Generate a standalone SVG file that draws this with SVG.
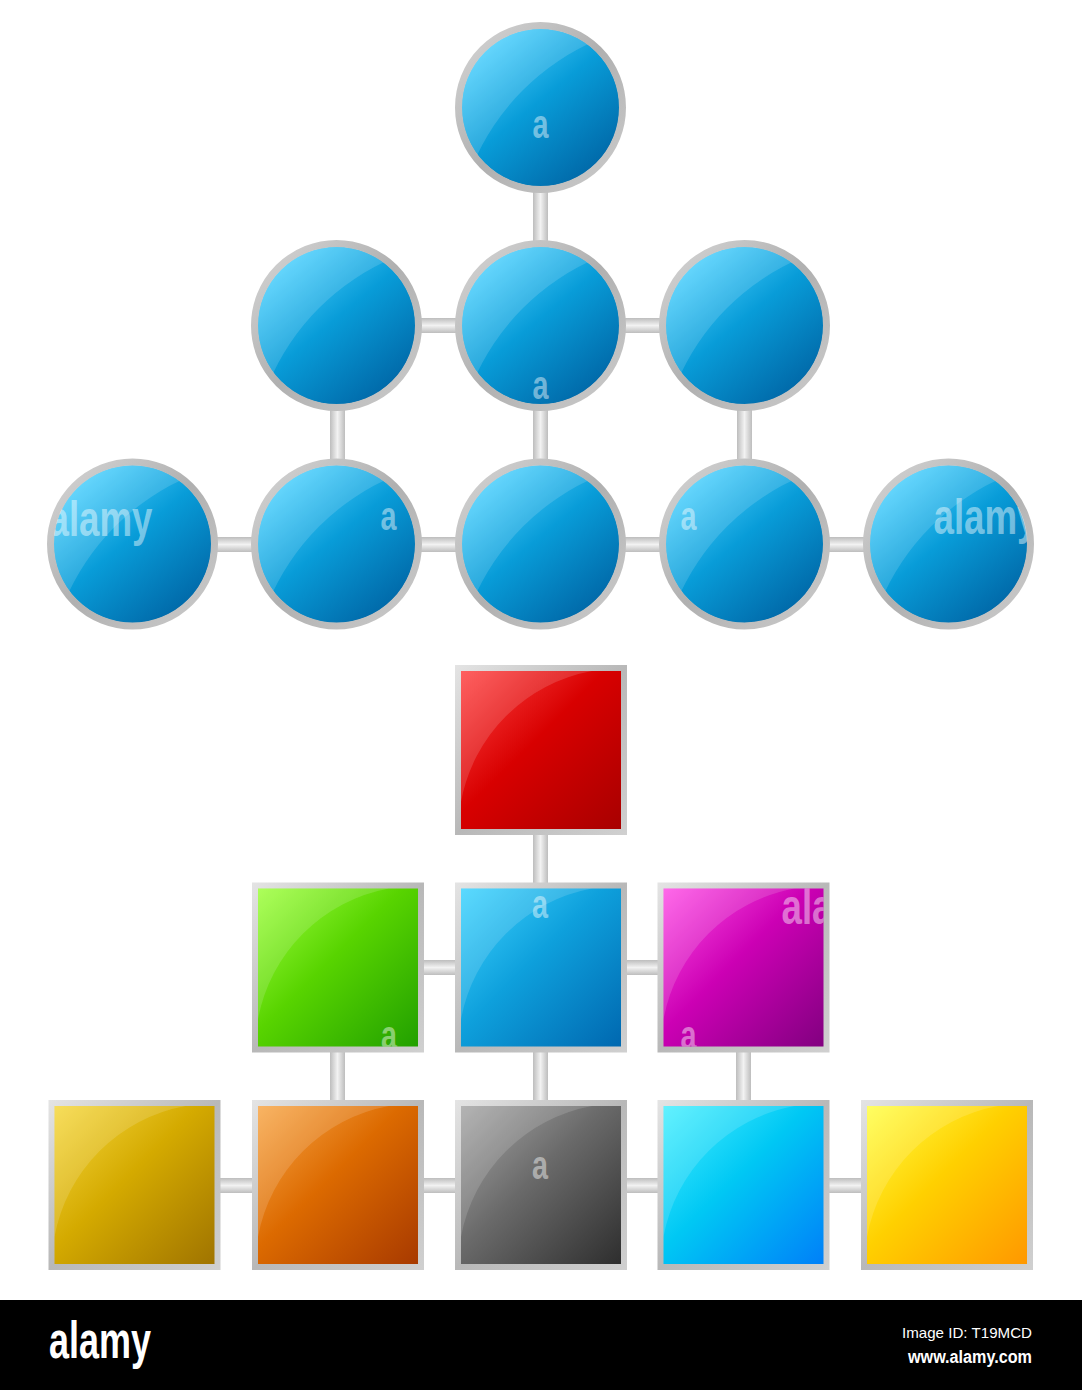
<svg xmlns="http://www.w3.org/2000/svg" width="1082" height="1390" viewBox="0 0 1082 1390">
<defs>
<style>
.wm{font-family:"Liberation Sans",Arial,sans-serif;font-weight:bold;fill:#ffffff;fill-opacity:0.45}
.ft{font-family:"Liberation Sans",Arial,sans-serif;fill:#ffffff}
.ring{fill:none;stroke:url(#ringG);stroke-width:7}
.disc{fill:url(#blueC)}
.gloss{fill:#ffffff;fill-opacity:0.14}
.frame{fill:url(#frameG)}
.hb{fill:url(#barH)}
.vb{fill:url(#barV)}
</style>
<linearGradient id="ringG" x1="0" y1="0" x2="1" y2="1">
<stop offset="0" stop-color="#d6d6d6"/><stop offset="0.5" stop-color="#b0b0b0"/><stop offset="1" stop-color="#cccccc"/>
</linearGradient>
<linearGradient id="frameG" x1="0" y1="0" x2="1" y2="1">
<stop offset="0" stop-color="#e4e4e4"/><stop offset="0.5" stop-color="#b8b8b8"/><stop offset="1" stop-color="#d0d0d0"/>
</linearGradient>
<linearGradient id="barH" x1="0" y1="0" x2="0" y2="1">
<stop offset="0" stop-color="#bdbdbd"/><stop offset="0.5" stop-color="#f2f2f2"/><stop offset="1" stop-color="#bdbdbd"/>
</linearGradient>
<linearGradient id="barV" x1="0" y1="0" x2="1" y2="0">
<stop offset="0" stop-color="#bdbdbd"/><stop offset="0.5" stop-color="#f2f2f2"/><stop offset="1" stop-color="#bdbdbd"/>
</linearGradient>
<linearGradient id="blueC" x1="0.15" y1="0.1" x2="0.85" y2="0.95">
<stop offset="0" stop-color="#4fd2ff"/><stop offset="0.45" stop-color="#089cd8"/><stop offset="1" stop-color="#0064a4"/>
</linearGradient>
<linearGradient id="gRed" x1="0" y1="0" x2="1" y2="1"><stop offset="0" stop-color="#ff4646"/><stop offset="0.45" stop-color="#d80000"/><stop offset="1" stop-color="#a80000"/></linearGradient>
<linearGradient id="gGreen" x1="0" y1="0" x2="1" y2="1"><stop offset="0" stop-color="#a0ff40"/><stop offset="0.45" stop-color="#58d400"/><stop offset="1" stop-color="#22a000"/></linearGradient>
<linearGradient id="gBlue" x1="0" y1="0" x2="1" y2="1"><stop offset="0" stop-color="#40d4ff"/><stop offset="0.45" stop-color="#0ea0dc"/><stop offset="1" stop-color="#0068b0"/></linearGradient>
<linearGradient id="gMag" x1="0" y1="0" x2="1" y2="1"><stop offset="0" stop-color="#ff50e6"/><stop offset="0.45" stop-color="#cc00b4"/><stop offset="1" stop-color="#820080"/></linearGradient>
<linearGradient id="gGold" x1="0" y1="0" x2="1" y2="1"><stop offset="0" stop-color="#f6d840"/><stop offset="0.45" stop-color="#d4aa00"/><stop offset="1" stop-color="#a07400"/></linearGradient>
<linearGradient id="gOrange" x1="0" y1="0" x2="1" y2="1"><stop offset="0" stop-color="#f8a84a"/><stop offset="0.45" stop-color="#dc6a00"/><stop offset="1" stop-color="#a83a00"/></linearGradient>
<linearGradient id="gGray" x1="0" y1="0" x2="1" y2="1"><stop offset="0" stop-color="#a8a8a8"/><stop offset="0.45" stop-color="#6a6a6a"/><stop offset="1" stop-color="#2e2e2e"/></linearGradient>
<linearGradient id="gCyan" x1="0" y1="0" x2="1" y2="1"><stop offset="0" stop-color="#48f0ff"/><stop offset="0.45" stop-color="#00c8f4"/><stop offset="1" stop-color="#0080f8"/></linearGradient>
<linearGradient id="gYellow" x1="0" y1="0" x2="1" y2="1"><stop offset="0" stop-color="#ffff48"/><stop offset="0.45" stop-color="#ffd000"/><stop offset="1" stop-color="#ff9800"/></linearGradient>
<clipPath id="cc" clipPathUnits="userSpaceOnUse"><circle cx="0" cy="0" r="79"/></clipPath>
<clipPath id="sc" clipPathUnits="userSpaceOnUse"><rect x="-80" y="-79" width="160" height="158"/></clipPath>
<g id="cnode">
<circle class="disc" r="79"/>
<path class="gloss" clip-path="url(#cc)" fill-rule="evenodd" d="M-80,-80 H80 V80 H-80 Z M382,148 A234,234 0 1 0 -86,148 A234,234 0 1 0 382,148 Z"/>
<circle class="ring" r="82"/>
</g>
<path id="sgloss" class="gloss" d="M-80,-79 H51 A163,163 0 0 0 -80,52 Z"/>
</defs>
<rect width="1082" height="1390" fill="#ffffff"/>
<g id="connectors">
<rect class="vb" x="533" y="188" width="15" height="56"/>
<rect class="hb" x="418" y="318" width="44" height="15"/>
<rect class="hb" x="621" y="318" width="44" height="15"/>
<rect class="vb" x="330" y="406" width="15" height="56"/>
<rect class="vb" x="533" y="406" width="15" height="56"/>
<rect class="vb" x="737" y="406" width="15" height="56"/>
<rect class="hb" x="214" y="537" width="42" height="15"/>
<rect class="hb" x="418" y="537" width="42" height="15"/>
<rect class="hb" x="621" y="537" width="42" height="15"/>
<rect class="hb" x="825" y="537" width="42" height="15"/>
<rect class="vb" x="533" y="833" width="15" height="52"/>
<rect class="hb" x="421" y="960" width="37" height="15"/>
<rect class="hb" x="624" y="960" width="37" height="15"/>
<rect class="vb" x="330" y="1051" width="15" height="52"/>
<rect class="vb" x="533" y="1051" width="15" height="52"/>
<rect class="vb" x="736" y="1051" width="15" height="52"/>
<rect class="hb" x="217" y="1178" width="38" height="15"/>
<rect class="hb" x="421" y="1178" width="37" height="15"/>
<rect class="hb" x="624" y="1178" width="37" height="15"/>
<rect class="hb" x="827" y="1178" width="38" height="15"/>
</g>
<g id="circle-top" transform="translate(540.5,107.5)"><use href="#cnode"/><text class="wm" x="-8" y="30" font-size="40" textLength="16" lengthAdjust="spacingAndGlyphs">a</text></g>
<g id="circle-r2-left" transform="translate(336.5,325.5)"><use href="#cnode"/></g>
<g id="circle-r2-mid" transform="translate(540.5,325.5)"><use href="#cnode"/><text class="wm" x="-8" y="73" font-size="40" textLength="16" lengthAdjust="spacingAndGlyphs" clip-path="url(#cc)">a</text></g>
<g id="circle-r2-right" transform="translate(744.5,325.5)"><use href="#cnode"/></g>
<g id="circle-r3-1" transform="translate(132.5,544)"><use href="#cnode"/><text class="wm" x="-84" y="-8" font-size="50" textLength="104" lengthAdjust="spacingAndGlyphs" clip-path="url(#cc)">alamy</text></g>
<g id="circle-r3-2" transform="translate(336.5,544)"><use href="#cnode"/><text class="wm" x="44" y="-14" font-size="40" textLength="16" lengthAdjust="spacingAndGlyphs">a</text></g>
<g id="circle-r3-3" transform="translate(540.5,544)"><use href="#cnode"/></g>
<g id="circle-r3-4" transform="translate(744.5,544)"><use href="#cnode"/><text class="wm" x="-64" y="-14" font-size="40" textLength="16" lengthAdjust="spacingAndGlyphs">a</text></g>
<g id="circle-r3-5" transform="translate(948.5,544)"><use href="#cnode"/><text class="wm" x="-15" y="-10" font-size="50" textLength="104" lengthAdjust="spacingAndGlyphs" clip-path="url(#cc)">alamy</text></g>
<g id="sq-red" transform="translate(541,750)"><rect class="frame" x="-86" y="-85" width="172" height="170"/><rect x="-80" y="-79" width="160" height="158" fill="url(#gRed)"/><use href="#sgloss"/></g>
<g id="sq-green" transform="translate(338,967.5)"><rect class="frame" x="-86" y="-85" width="172" height="170"/><rect x="-80" y="-79" width="160" height="158" fill="url(#gGreen)"/><use href="#sgloss"/><text class="wm" x="43" y="81" font-size="40" textLength="16" lengthAdjust="spacingAndGlyphs" clip-path="url(#sc)">a</text></g>
<g id="sq-blue" transform="translate(541,967.5)"><rect class="frame" x="-86" y="-85" width="172" height="170"/><rect x="-80" y="-79" width="160" height="158" fill="url(#gBlue)"/><use href="#sgloss"/><text class="wm" x="-9" y="-50" font-size="40" textLength="16" lengthAdjust="spacingAndGlyphs">a</text></g>
<g id="sq-magenta" transform="translate(743.5,967.5)"><rect class="frame" x="-86" y="-85" width="172" height="170"/><rect x="-80" y="-79" width="160" height="158" fill="url(#gMag)"/><use href="#sgloss"/><text class="wm" x="-63" y="81" font-size="40" textLength="16" lengthAdjust="spacingAndGlyphs" clip-path="url(#sc)">a</text><text class="wm" x="38" y="-44" font-size="50" textLength="104" lengthAdjust="spacingAndGlyphs" clip-path="url(#sc)">alamy</text></g>
<g id="sq-gold" transform="translate(134.5,1185)"><rect class="frame" x="-86" y="-85" width="172" height="170"/><rect x="-80" y="-79" width="160" height="158" fill="url(#gGold)"/><use href="#sgloss"/></g>
<g id="sq-orange" transform="translate(338,1185)"><rect class="frame" x="-86" y="-85" width="172" height="170"/><rect x="-80" y="-79" width="160" height="158" fill="url(#gOrange)"/><use href="#sgloss"/></g>
<g id="sq-gray" transform="translate(541,1185)"><rect class="frame" x="-86" y="-85" width="172" height="170"/><rect x="-80" y="-79" width="160" height="158" fill="url(#gGray)"/><use href="#sgloss"/><text class="wm" x="-9" y="-6" font-size="40" textLength="16" lengthAdjust="spacingAndGlyphs">a</text></g>
<g id="sq-cyan" transform="translate(743.5,1185)"><rect class="frame" x="-86" y="-85" width="172" height="170"/><rect x="-80" y="-79" width="160" height="158" fill="url(#gCyan)"/><use href="#sgloss"/></g>
<g id="sq-yellow" transform="translate(947,1185)"><rect class="frame" x="-86" y="-85" width="172" height="170"/><rect x="-80" y="-79" width="160" height="158" fill="url(#gYellow)"/><use href="#sgloss"/></g>
<g id="footer">
<rect x="0" y="1300" width="1082" height="90" fill="#000000"/>
<text class="ft" x="49" y="1358" font-size="52" font-weight="bold" textLength="102" lengthAdjust="spacingAndGlyphs">alamy</text>
<text class="ft" x="1032" y="1338" font-size="15" text-anchor="end" textLength="130" lengthAdjust="spacingAndGlyphs">Image ID: T19MCD</text>
<text class="ft" x="1032" y="1363" font-size="18" font-weight="bold" text-anchor="end" textLength="124" lengthAdjust="spacingAndGlyphs">www.alamy.com</text>
</g>
</svg>
